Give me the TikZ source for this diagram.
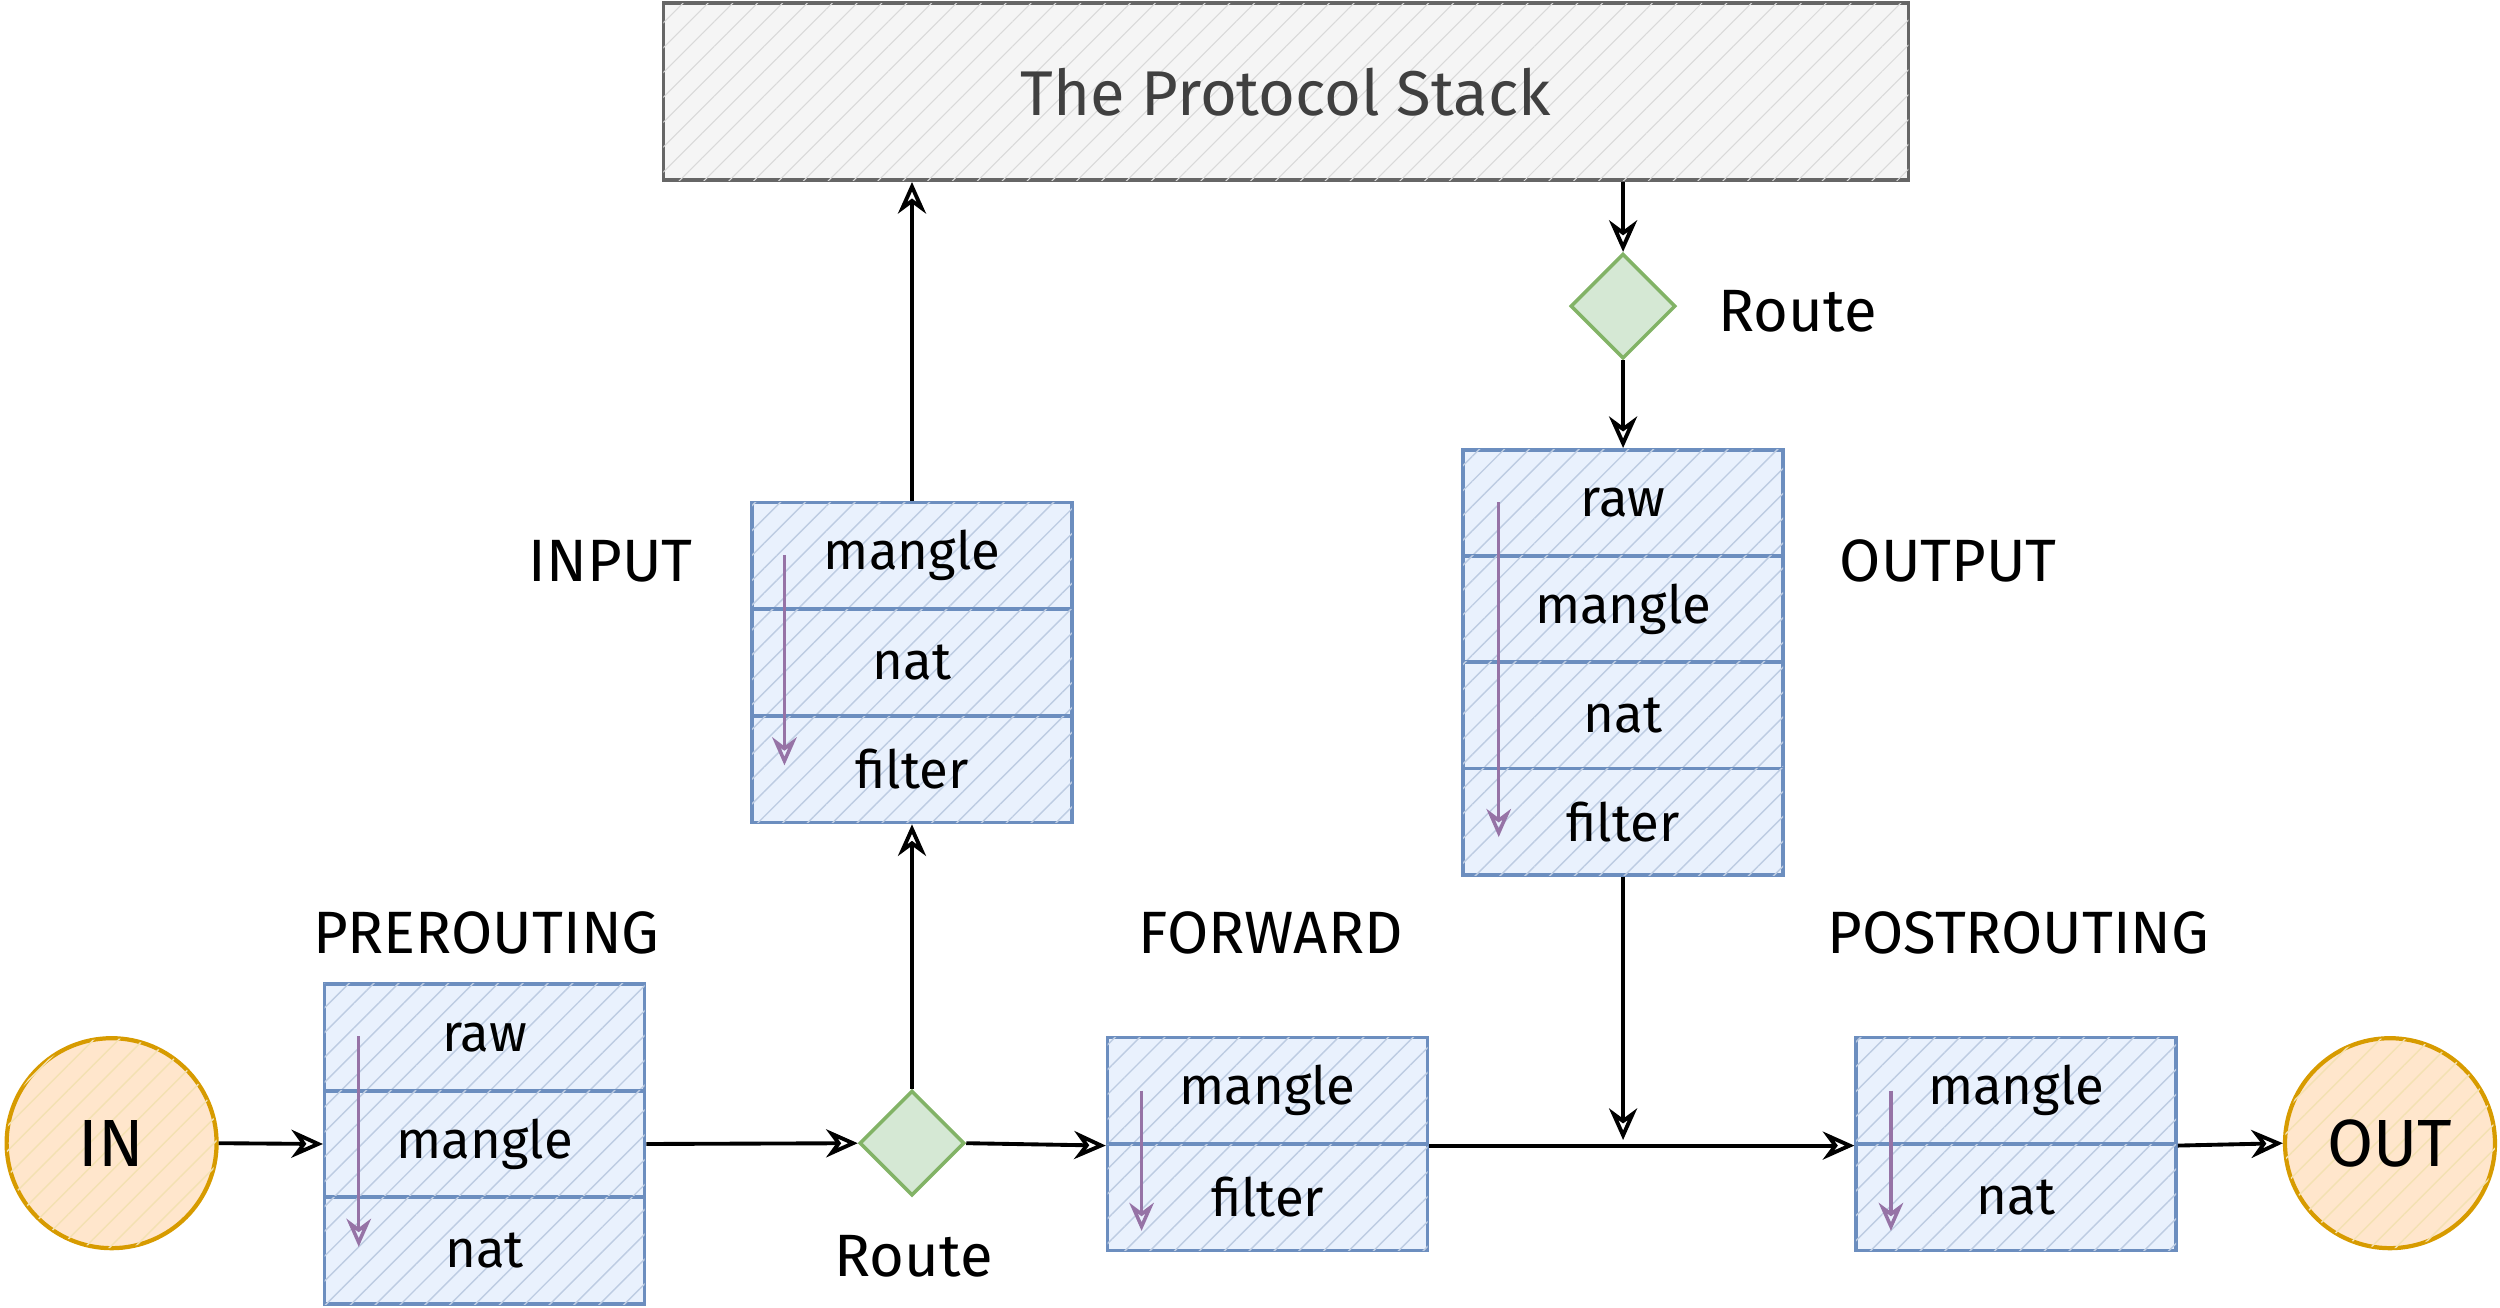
\documentclass[tikz,border=0pt]{standalone}
\usepackage{fontspec}
\setmainfont{Fira Sans}
\usetikzlibrary{arrows.meta,shapes.geometric,patterns.meta}
\definecolor{bstroke}{HTML}{6C8EBF}
\definecolor{bfill}{HTML}{DAE8FC}
\definecolor{gstroke}{HTML}{82B366}
\definecolor{gfill}{HTML}{D5E8D4}
\definecolor{ostroke}{HTML}{D79B00}
\definecolor{ofill}{HTML}{FFE6CC}
\definecolor{pstroke}{HTML}{9673A6}
\begin{document}
\begin{tikzpicture}[x=0.015944cm,y=-0.015944cm,
  cell/.style={draw=bstroke,line width=1pt,fill=bfill!60,minimum width=3.2cm,minimum height=1.065cm,inner sep=0pt,font=\fontsize{15}{18}\selectfont,
    postaction={pattern={Lines[angle=45,distance=5pt,line width=0.4pt]},pattern color=bstroke!45}},
  route/.style={diamond,draw=gstroke,line width=1pt,fill=gfill,minimum width=1.05cm,minimum height=1.05cm,inner sep=0pt},
  term/.style={circle,draw=ostroke,line width=1.2pt,fill=ofill,minimum size=2.1cm,inner sep=0pt,font=\fontsize{19}{22}\selectfont,
    postaction={pattern={Lines[angle=45,distance=5pt,line width=0.4pt]},pattern color=ostroke!30}},
  lab/.style={font=\fontsize{17}{20}\selectfont},
  arr/.style={-{Stealth[open,length=9pt,width=8pt]},line width=1.1pt},
  parr/.style={-{Stealth[open,length=8pt,width=7pt]},draw=pstroke,line width=1pt}]
\useasboundingbox (0,0) rectangle (1568,820);
% protocol stack
\node[draw=black!60,line width=1pt,fill=black!4,minimum width=12.45cm,minimum height=1.77cm,font=\fontsize{18}{22}\selectfont,text=black!75,
  postaction={pattern={Lines[angle=45,distance=5pt,line width=0.3pt]},pattern color=black!15}] (ps) at (806.5,57.5) {The Protocol Stack};
% route top
\node[route] (r1) at (1018,192) {};
\node[lab,anchor=west] at (1070,195) {Route};
% OUTPUT
\node[cell] (o1) at (1018,315.5) {raw};
\node[cell] (o2) at (1018,382) {mangle};
\node[cell] (o3) at (1018,448.5) {nat};
\node[cell] (o4) at (1018,515.5) {filter};
\node[lab] at (1222,352) {OUTPUT};
\coordinate (oa) at (940,315); \coordinate (ob) at (940,525);
\draw[parr] (oa) -- (ob);
% INPUT
\node[cell] (i1) at (572,348.5) {mangle};
\node[cell] (i2) at (572,415.5) {nat};
\node[cell] (i3) at (572,482.5) {filter};
\node[lab] at (383,352) {INPUT};
\coordinate (ia) at (492,348); \coordinate (ib) at (492,480);
\draw[parr] (ia) -- (ib);
% PREROUTING
\node[cell] (p1) at (304,650.5) {raw};
\node[cell] (p2) at (304,717.5) {mangle};
\node[cell] (p3) at (304,784.5) {nat};
\node[lab] at (305,585) {PREROUTING};
\coordinate (pa) at (225,650); \coordinate (pb) at (225,782);
\draw[parr] (pa) -- (pb);
% IN
\node[term] (in) at (70,717) {IN};
% route bottom
\node[route] (r2) at (572,717) {};
\node[lab] at (573,788) {Route};
% FORWARD
\node[cell] (f1) at (795,684) {mangle};
\node[cell] (f2) at (795,751) {filter};
\node[lab] at (797,585) {FORWARD};
\coordinate (fa) at (716,684); \coordinate (fb) at (716,772);
\draw[parr] (fa) -- (fb);
% POSTROUTING
\node[cell] (q1) at (1264.5,684) {mangle};
\node[cell] (q2) at (1264.5,751) {nat};
\node[lab] at (1266,585) {POSTROUTING};
\coordinate (qa) at (1186,684); \coordinate (qb) at (1186,772);
\draw[parr] (qa) -- (qb);
% OUT
\node[term] (out) at (1499,717) {OUT};
% connectors
\draw[arr] (in.east) -- (p2.west);
\draw[arr] (p2.east) -- (r2.west);
\draw[arr] (r2.east) -- (f1.south west);
\draw[arr] (f1.south east) -- (q1.south west);
\draw[arr] (q1.south east) -- (out.west);
\draw[arr] (r2.north) -- (i3.south);
\draw[arr] (i1.north) -- (ps.south -| i1.north);
\draw[arr] (ps.south -| r1.north) -- (r1.north);
\draw[arr] (r1.south) -- (o1.north);
\coordinate (mj) at (1018,715);
\draw[arr] (o4.south) -- (mj);
\end{tikzpicture}
\end{document}
